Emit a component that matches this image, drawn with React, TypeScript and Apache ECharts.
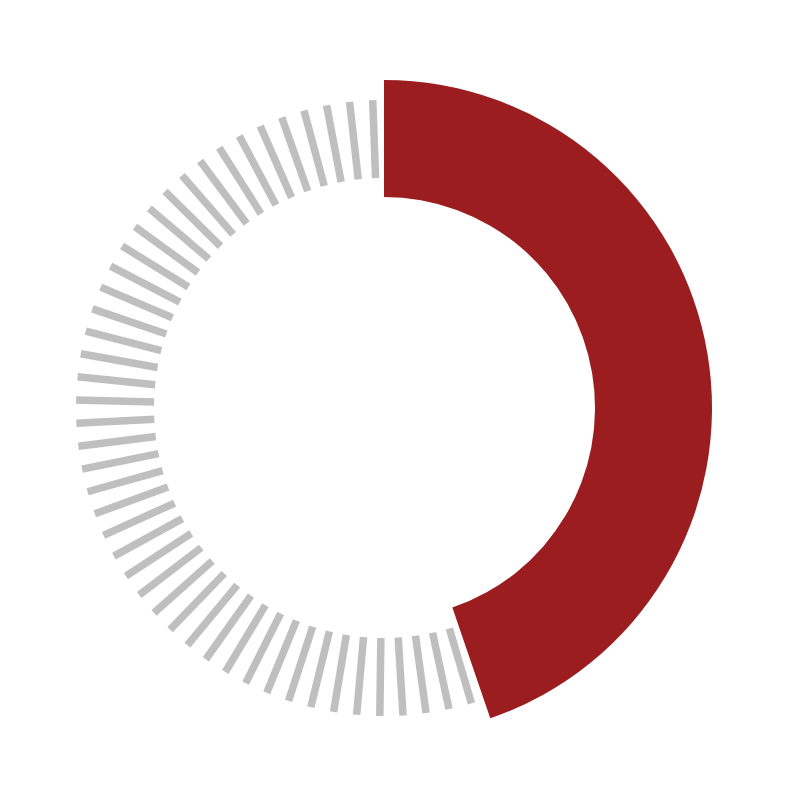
import React, { useEffect, useRef } from "react";
import * as echarts from "echarts";

// Share of the full circle held by the red segment, and the remainder
const categories = ["Value", "Remainder"];
const values = [44.75, 55.25];
// Gray tick scale drawn over the remainder (tick count - 1 intervals)
const tickIntervals = 45;

export default function App() {
  const ref = useRef<HTMLDivElement>(null);

  useEffect(() => {
    document.body.style.margin = "0";
    if (!ref.current) return;
    const chart = echarts.init(ref.current, undefined, { renderer: "svg" });
    const center = [384, 408];
    chart.setOption({
      animation: false,
      backgroundColor: "#ffffff",
      series: [
        {
          type: "gauge",
          center,
          radius: 308,
          startAngle: -73.5,
          endAngle: -267.9,
          min: 0,
          max: tickIntervals,
          splitNumber: tickIntervals,
          silent: true,
          axisLine: { show: false, lineStyle: { width: 0 } },
          axisTick: { show: false },
          axisLabel: { show: false },
          pointer: { show: false },
          anchor: { show: false },
          title: { show: false },
          detail: { show: false },
          splitLine: {
            show: true,
            distance: 0,
            length: 78,
            lineStyle: { color: "#bfbfbf", width: 7.5, cap: "butt" },
          },
          data: [{ value: 0 }],
        },
        {
          type: "pie",
          center,
          radius: [211, 328],
          startAngle: 90,
          clockwise: true,
          silent: true,
          label: { show: false },
          labelLine: { show: false },
          data: categories.map((name, i) => ({
            name,
            value: values[i],
            itemStyle: { color: i === 0 ? "#9b1d20" : "rgba(0,0,0,0)" },
          })),
        },
      ],
    });
    return () => chart.dispose();
  }, []);

  return <div ref={ref} style={{ width: 800, height: 800 }} />;
}
